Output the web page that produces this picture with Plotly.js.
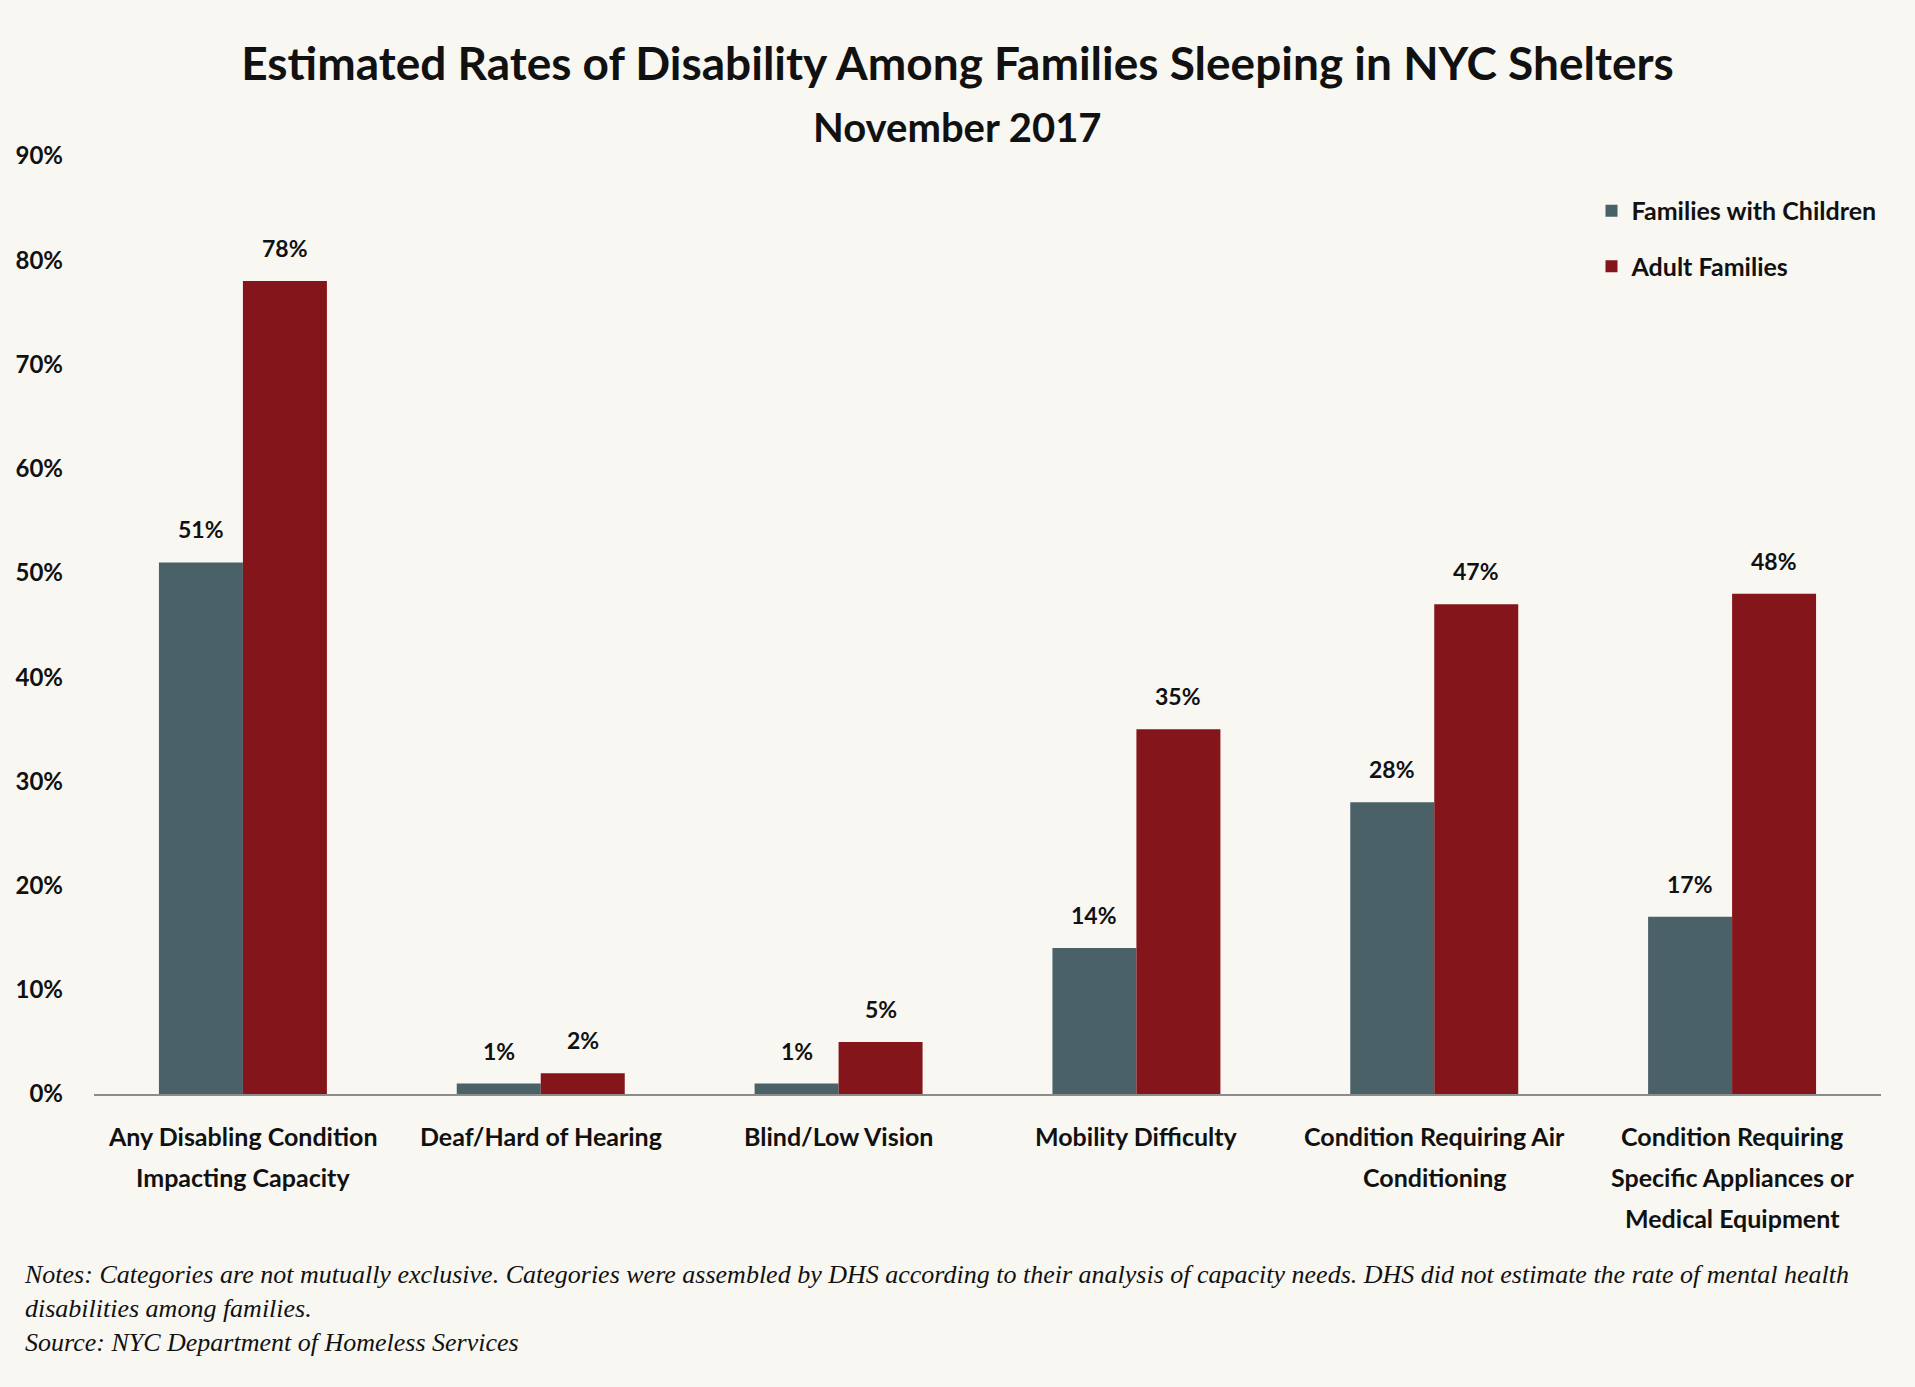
<!DOCTYPE html>
<html>
<head>
<meta charset="utf-8">
<script src="https://cdn.plot.ly/plotly-3.0.1.min.js"></script>
<style>
html,body{margin:0;padding:0;background:#f8f7f1;}
#chart{width:1915px;height:1387px;}
</style>
</head>
<body>
<div id="chart"></div>
<script>
const categories = [
  "Any Disabling Condition<br>Impacting Capacity",
  "Deaf/Hard of Hearing",
  "Blind/Low Vision",
  "Mobility Difficulty",
  "Condition Requiring Air<br>Conditioning",
  "Condition Requiring<br>Specific Appliances or<br>Medical Equipment"
];
const familiesWithChildren = [51, 1, 1, 14, 28, 17];
const adultFamilies = [78, 2, 5, 35, 47, 48];
const seriesNames = ["Families with Children", "Adult Families"];
const yTicks = [0, 10, 20, 30, 40, 50, 60, 70, 80, 90];

const FONT = "Lato, 'Open Sans', sans-serif";
const labelFont = {family: FONT, size: 23, color: "#111", weight: 700};
const catFont = {family: FONT, size: 25, color: "#111", weight: 700};

const traces = [
  {
    type: "bar", name: seriesNames[0], x: categories, y: familiesWithChildren,
    marker: {color: "#4b6168"}, legendgroup: "a", hoverinfo: "skip"
  },
  {
    type: "bar", name: seriesNames[1], x: categories, y: adultFamilies,
    marker: {color: "#84161b"}, legendgroup: "b", hoverinfo: "skip"
  }
];

// value labels above bars (offset to each bar in the group)
const valueLabels = [];
[[familiesWithChildren, -42], [adultFamilies, 42]].forEach(([arr, shift]) => {
  arr.forEach((v, i) => {
    valueLabels.push({
      x: categories[i], y: v, xref: "x", yref: "y",
      text: v + "%", showarrow: false, xshift: shift, yshift: 17,
      yanchor: "bottom", xanchor: "center", font: labelFont
    });
  });
});

// category labels under the axis, one line each (wider line spacing than tick labels allow)
const categoryLabels = [];
categories.forEach(cat => {
  cat.split("<br>").forEach((line, j) => {
    categoryLabels.push({
      x: cat, y: 0, xref: "x", yref: "y",
      text: line, showarrow: false, yshift: -(42 + 41 * j),
      yanchor: "middle", xanchor: "center", font: catFont
    });
  });
});

const layout = {
  width: 1915, height: 1387,
  paper_bgcolor: "#f8f7f1", plot_bgcolor: "#f8f7f1",
  margin: {l: 94, r: 34, t: 156, b: 293},
  barmode: "group", bargap: 0.436, bargroupgap: 0,
  font: {family: FONT, color: "#111"},
  title: {
    text: "Estimated Rates of Disability Among Families Sleeping in NYC Shelters",
    font: {family: FONT, size: 46, color: "#111", weight: 700},
    x: 0.5, xref: "container", xanchor: "center",
    y: 1 - 64/1387, yref: "container", yanchor: "middle"
  },
  xaxis: {
    showline: true, linecolor: "#8c8c8c", linewidth: 2,
    showgrid: false, zeroline: false, ticks: "", showticklabels: false,
    automargin: false
  },
  yaxis: {
    range: [0, 90], tickvals: yTicks, ticktext: yTicks.map(v => v + "%"),
    showgrid: false, zeroline: false, showline: false, ticks: "",
    tickfont: {family: FONT, size: 24, color: "#111", weight: 700},
    ticklabelstandoff: 30, automargin: false
  },
  legend: {
    x: 0.838, xanchor: "left", y: 0.966, yanchor: "top",
    bgcolor: "rgba(0,0,0,0)", traceorder: "grouped", tracegroupgap: 20,
    font: {family: FONT, size: 25, color: "#111", weight: 700}
  },
  annotations: [
    {
      text: "November 2017", xref: "paper", yref: "paper",
      x: (957.5 - 94) / 1787, y: (1094 - 127) / 938, xanchor: "center", yanchor: "middle",
      showarrow: false, font: {family: FONT, size: 40, color: "#111", weight: 700}
    },
    {
      text: "<i>Notes: Categories are not mutually exclusive. Categories were assembled by DHS according to their analysis of capacity needs. DHS did not estimate the rate of mental health<br>disabilities among families.<br>Source: NYC Department of Homeless Services</i>",
      xref: "paper", yref: "paper", x: (22 - 94) / 1787, y: (1094 - 1258) / 938,
      xanchor: "left", yanchor: "top", align: "left", showarrow: false,
      font: {family: "'Liberation Serif', serif", size: 26, color: "#111"}
    }
  ].concat(valueLabels, categoryLabels),
  showlegend: true
};

Plotly.newPlot("chart", traces, layout, {displayModeBar: false, staticPlot: true});
</script>
</body>
</html>
